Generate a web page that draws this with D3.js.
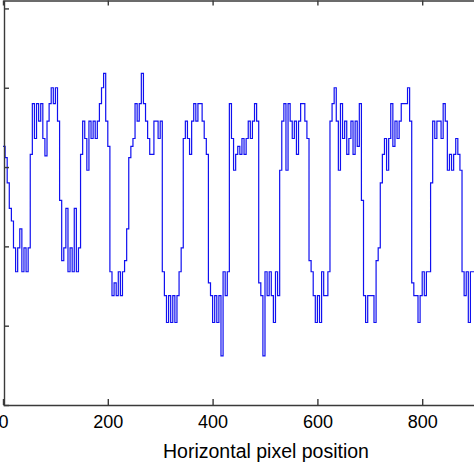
<!DOCTYPE html>
<html>
<head>
<meta charset="utf-8">
<script src="https://cdn.jsdelivr.net/npm/d3@7"></script>
<style>
  body { margin: 0; background: #fff; }
  svg { display: block; }
  .tick text { font-family: "Liberation Sans", Arial, sans-serif; font-size: 18px; fill: #000; }
  .tick line, .domain { stroke: #3a3a3a; stroke-width: 1.4; }
</style>
</head>
<body>
<svg id="chart" width="474" height="474"></svg>
<script>
// intensity profile along one image row, one sample every 4 pixels
const pixelPos = d3.range(0, 904, 4);
const intensity = [
  163,156,140,124,116,99,84,99,111,84,
  99,84,99,158,190,168,190,179,190,168,
  157,179,190,200,190,200,179,129,91,99,
  124,84,99,84,124,84,99,158,179,168,
  148,179,168,179,168,179,190,200,209,179,
  163,84,69,77,69,84,69,84,91,111,
  156,163,168,190,179,190,209,190,179,168,
  158,158,179,179,168,179,84,69,52,69,
  52,69,52,69,84,99,168,179,168,158,
  179,190,179,190,190,179,168,158,77,69,
  52,69,52,69,31,84,69,84,190,168,
  148,158,163,158,168,158,168,179,168,179,
  190,179,77,69,31,84,69,84,69,52,
  84,69,148,179,190,148,190,179,168,179,
  158,179,190,190,179,168,91,84,69,52,
  69,52,84,69,69,84,179,190,200,179,
  148,190,168,179,158,168,179,158,179,163,
  190,129,69,52,69,69,69,52,91,99,
  140,158,168,148,168,190,163,179,168,179,
  190,190,190,200,179,77,69,69,52,69,
  84,69,84,84,140,179,168,179,179,168,
  190,179,148,158,148,158,168,158,148,84,
  69,84,52,84,84,84
];
const xTicks = [0, 200, 400, 600, 800];
const yTicks = [0, 50, 100, 150, 200, 250];

const svg = d3.select("#chart");

let x = d3.scaleLinear().domain([0, 900]).range([3, 474.6]);
let y = d3.scaleLinear().domain([0, 255]).range([405, 0.5]);

let data = pixelPos.map((p, i) => ({ pos: p, val: intensity[i] }));

// signal
let line = d3.line()
    .x(d => x(d.pos))
    .y(d => y(d.val))
    .curve(d3.curveStepAfter);

svg.append("path")
    .datum(data)
    .attr("d", line)
    .attr("fill", "none")
    .attr("stroke", "#1010f0")
    .attr("stroke-width", 1.2);

// box with inward ticks, matlab style
svg.append("g")
    .attr("transform", "translate(0,405)")
    .call(d3.axisBottom(x).tickValues(xTicks).tickSizeInner(-6).tickSizeOuter(0).tickPadding(10));

svg.append("g")
    .attr("transform", "translate(0,0.5)")
    .call(d3.axisTop(x).tickValues(xTicks).tickSizeInner(-5).tickSizeOuter(0).tickFormat(""));

svg.append("g")
    .attr("transform", "translate(4,0)")
    .call(d3.axisLeft(y).tickValues(yTicks).tickSizeInner(-5).tickSizeOuter(0).tickFormat(""));

svg.append("text")
    .attr("x", 266)
    .attr("y", 458)
    .attr("text-anchor", "middle")
    .style("font-family", "Liberation Sans, Arial, sans-serif")
    .style("font-size", "19.5px")
    .text("Horizontal pixel position");
</script>
</body>
</html>
